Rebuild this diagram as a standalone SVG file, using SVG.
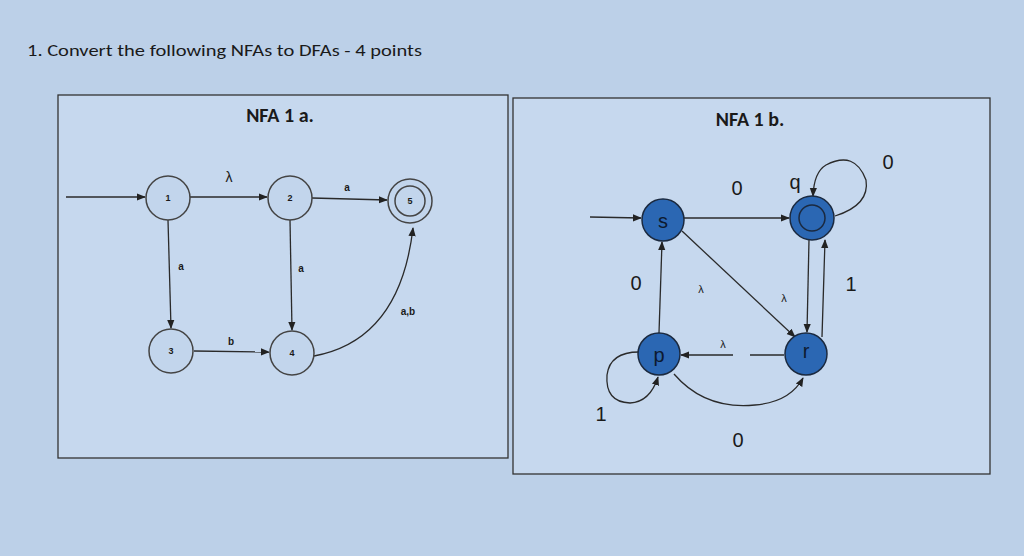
<svg xmlns="http://www.w3.org/2000/svg" width="1024" height="556" viewBox="0 0 1024 556">
<defs>
<marker id="ah" viewBox="0 0 10 10" refX="9" refY="5" markerWidth="7" markerHeight="7" orient="auto-start-reverse"><path d="M0,1 L10,5 L0,9 z" fill="#222"/></marker>
<style>
text{font-family:"Liberation Sans",Arial,sans-serif;fill:#1a1a1a}
.t{font-family:Carlito,"Open Sans","Liberation Sans",sans-serif}
.na circle{fill:#c2d5ec;stroke:#444;stroke-width:1.5}
.na text{font-size:9px;font-weight:bold;text-anchor:middle}
.nb circle{fill:#2b67b3;stroke:#1b2a40;stroke-width:1.5}
.nb text{font-size:20px;text-anchor:middle;fill:#0d1a30}
.e{fill:none;stroke:#2a2a2a;stroke-width:1.3;marker-end:url(#ah)}
.la{font-size:10px;font-weight:bold;text-anchor:middle}
.lb{font-size:20px;text-anchor:middle}
</style>
</defs>
<rect width="1024" height="556" fill="#bcd0e8"/>
<text x="27" y="56" class="t" font-size="17" textLength="395" lengthAdjust="spacingAndGlyphs">1.  Convert the following NFAs to DFAs - 4 points</text>
<rect x="58" y="95" width="450" height="363" fill="#c6d8ee" stroke="#333" stroke-width="1.3"/>
<rect x="513" y="98" width="477" height="376" fill="#c6d8ee" stroke="#333" stroke-width="1.3"/>
<text x="280" y="122" class="t" font-size="20" font-weight="bold" text-anchor="middle">NFA 1 a.</text>
<text x="750" y="126" class="t" font-size="20" font-weight="bold" text-anchor="middle">NFA 1 b.</text>
<g id="connectors">
<path class="e" d="M66,197 L145,197"/>
<path class="e" d="M190,197 L267,197"/>
<path class="e" d="M312,198 L387,200"/>
<path class="e" d="M168,220 L171,328"/>
<path class="e" d="M290,220 L292,330"/>
<path class="e" d="M194,351 L269,352"/>
<path class="e" d="M314,356 Q400,340 413,228"/>
<path class="e" d="M590,217 L641,218"/>
<path class="e" d="M684,218 L789,218"/>
<path class="e" d="M682,231 L795,337"/>
<path class="e" d="M809,240 L807,332"/>
<path class="e" d="M822,337 L825,240"/>
<path class="e" d="M659,333 L662,242"/>
<path class="e" d="M784,355 L750,355 M733,355 L681,355"/>
<path class="e" d="M674,374 Q705,410 755,405 Q790,402 803,378"/>
<path class="e" d="M835,216 Q870,205 866,180 Q855,150 826,165 Q814,172 813,196"/>
<path class="e" d="M639,352 Q610,352 607,375 Q605,402 630,403 Q650,402 658,377"/>
</g>
<g id="n1" class="na"><circle cx="168" cy="198" r="22"/><text x="168" y="201">1</text></g>
<g id="n2" class="na"><circle cx="290" cy="198" r="22"/><text x="290" y="201">2</text></g>
<g id="n5" class="na"><circle cx="410" cy="201" r="22"/><circle cx="410" cy="201" r="15"/><text x="410" y="204">5</text></g>
<g id="n3" class="na"><circle cx="171" cy="351" r="22"/><text x="171" y="354">3</text></g>
<g id="n4" class="na"><circle cx="292" cy="353" r="22"/><text x="292" y="356">4</text></g>
<text x="229" y="182" font-size="14" text-anchor="middle">λ</text>
<text class="la" x="347" y="191">a</text>
<text class="la" x="181" y="270">a</text>
<text class="la" x="301" y="272">a</text>
<text class="la" x="408" y="315">a,b</text>
<text class="la" x="231" y="345">b</text>
<g id="ns" class="nb"><circle cx="663" cy="220" r="21"/><text x="663" y="228">s</text></g>
<g id="nq" class="nb"><circle cx="812" cy="218" r="22"/><circle cx="812" cy="218" r="13" fill="none" stroke="#0d1a30" stroke-width="1.6"/></g>
<g id="np" class="nb"><circle cx="659" cy="354" r="21"/><text x="659" y="362">p</text></g>
<g id="nr" class="nb"><circle cx="806" cy="354" r="21"/><text x="806" y="358">r</text></g>
<text class="lb" x="737" y="195">0</text>
<text class="lb" x="795" y="189">q</text>
<text class="lb" x="888" y="169">0</text>
<text class="lb" x="636" y="290">0</text>
<text x="701" y="293" font-size="11" text-anchor="middle">λ</text>
<text x="784" y="302" font-size="11" text-anchor="middle">λ</text>
<text class="lb" x="851" y="291">1</text>
<text x="723" y="348" font-size="11" text-anchor="middle">λ</text>
<text class="lb" x="601" y="421">1</text>
<text class="lb" x="738" y="447">0</text>
</svg>
